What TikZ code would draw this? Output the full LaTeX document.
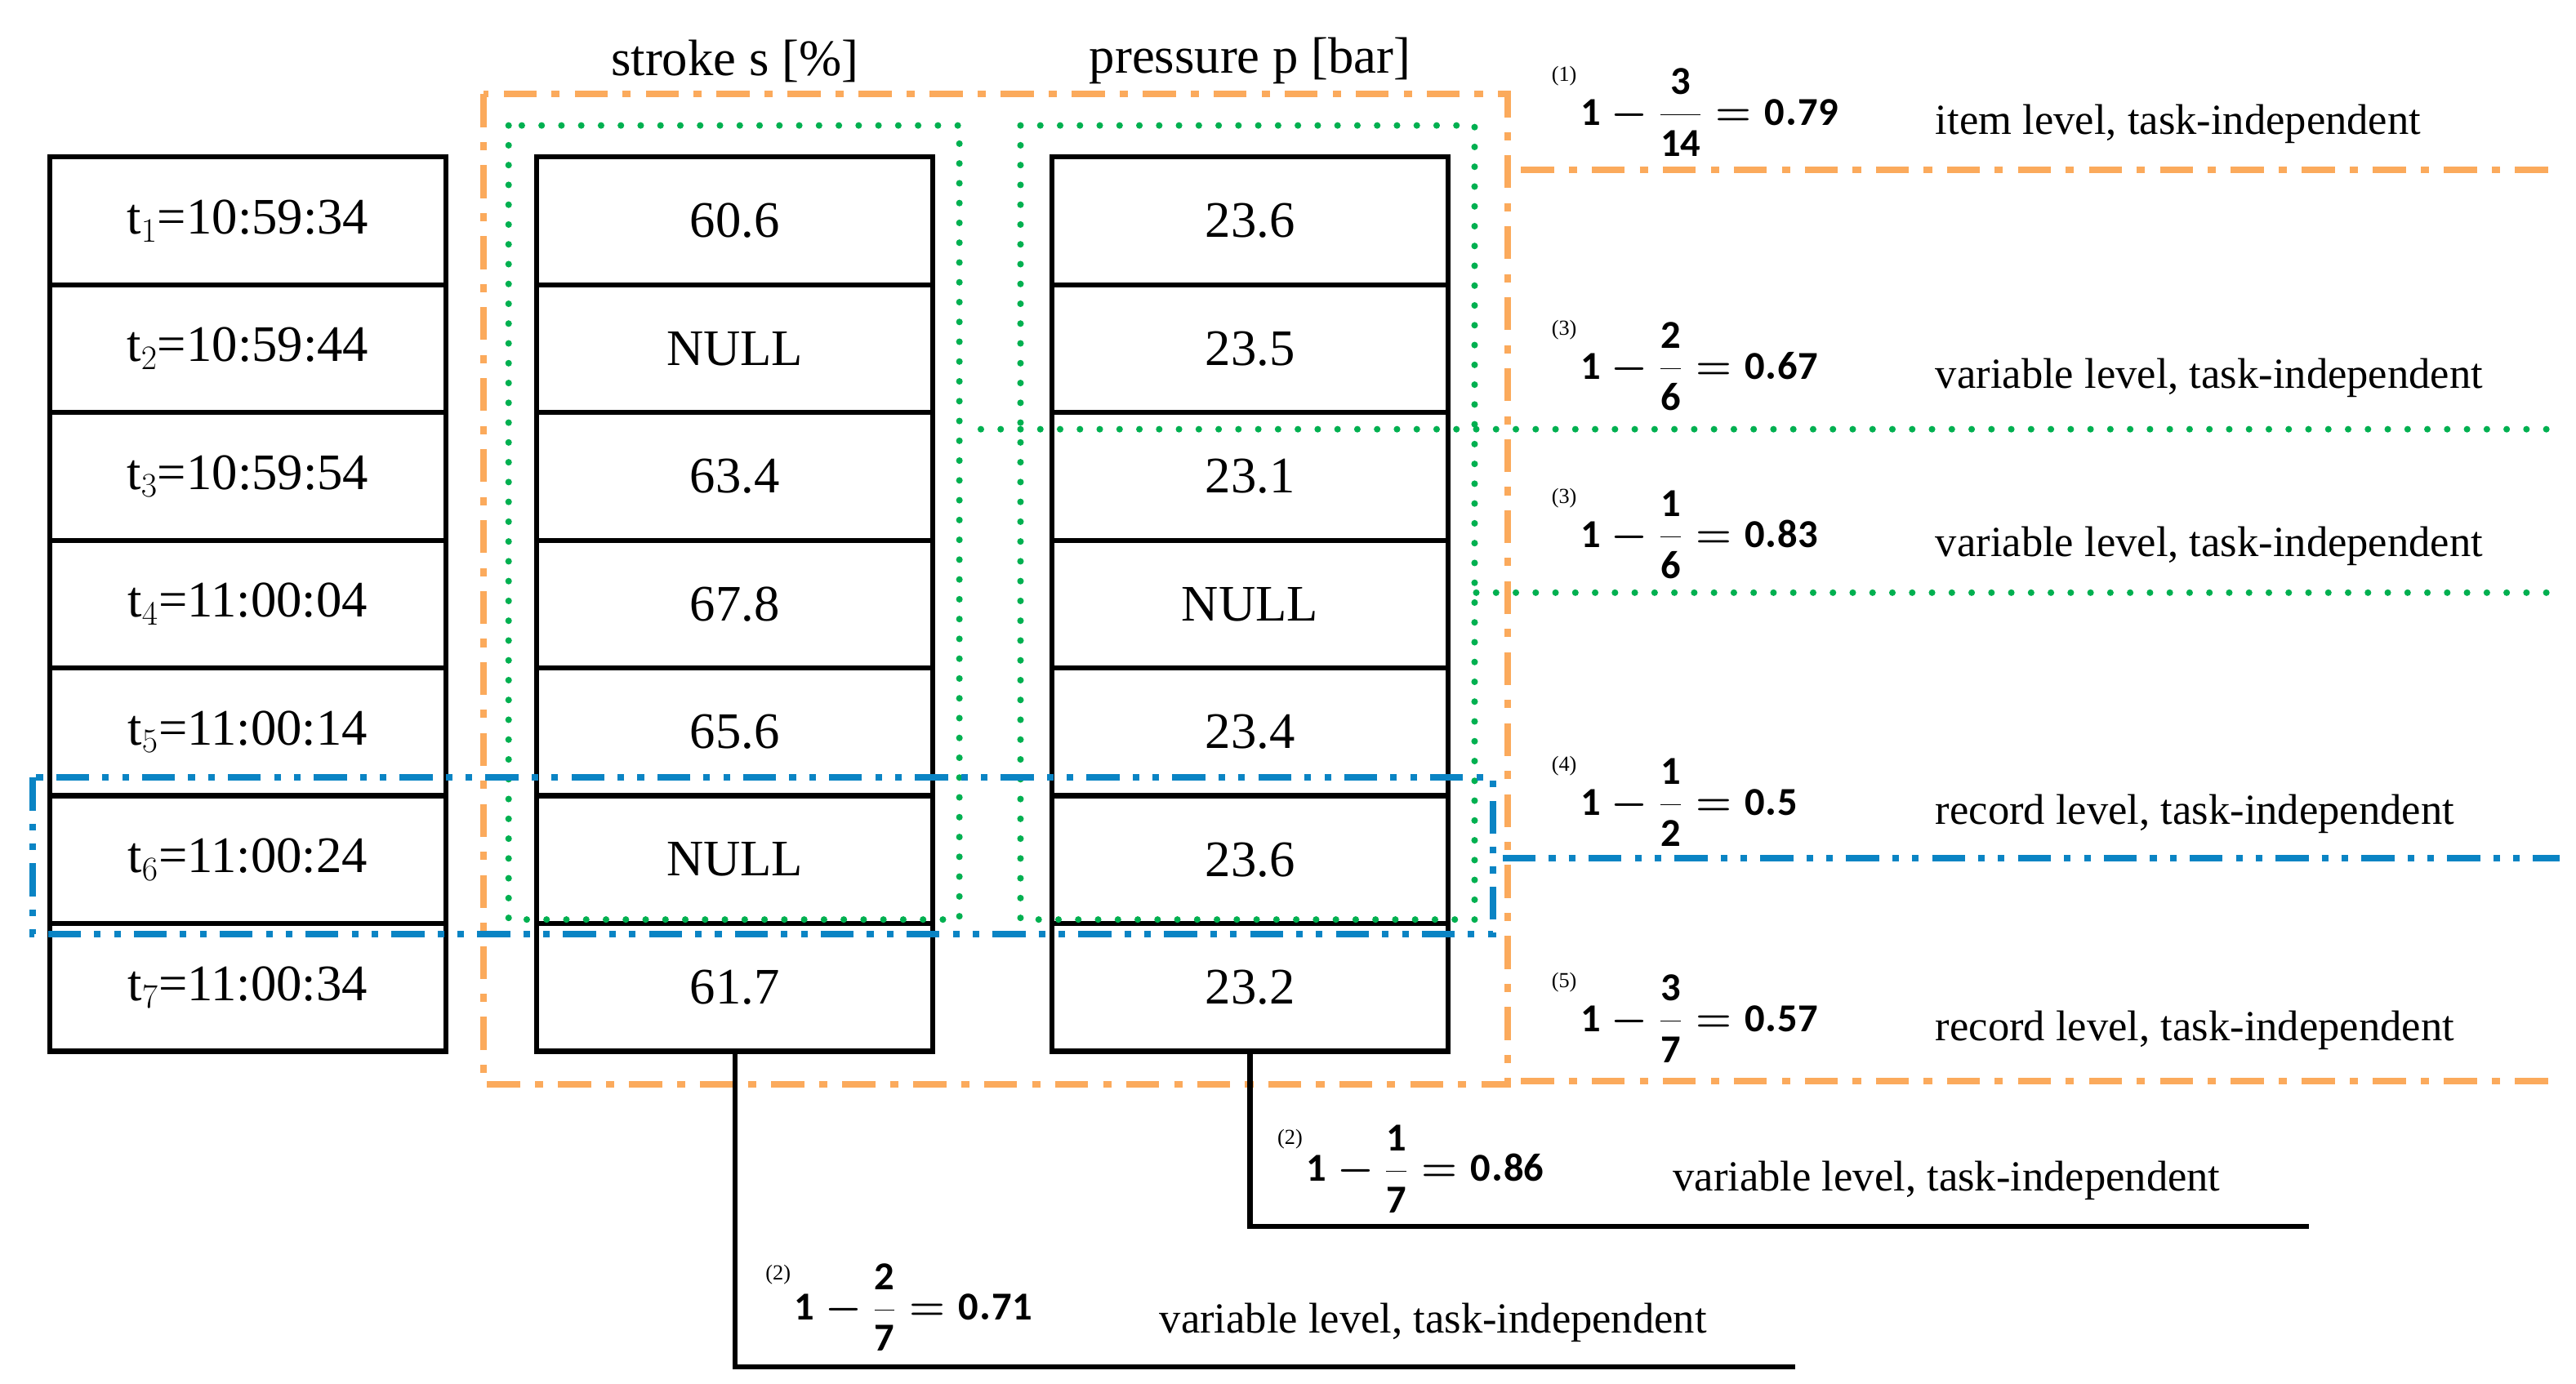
\documentclass[tikz,border=0pt]{standalone}
\usepackage{fontspec}
\setmainfont{Liberation Serif}
\setsansfont{Carlito}
\definecolor{org}{HTML}{FBAA5C}
\definecolor{grn}{HTML}{00B050}
\definecolor{blu}{HTML}{0A84C4}
\newcommand{\Fr}[4]{{\boldmath$\displaystyle\mathsf{1}-\frac{\mathsf{#2}}{\mathsf{#3}}=\mathsf{#4}$}}
\begin{document}
\begin{tikzpicture}[x=1pt,y=-1pt,
 cell/.style={draw,line width=3pt,minimum width=240pt,minimum height=77.4pt,inner sep=0pt,font=\fontsize{31}{36}\selectfont},
 orange/.style={org,line width=4pt,dash pattern=on 20pt off 9pt on 5pt off 9pt},
 green/.style={grn,line width=4pt,line cap=round,dash pattern=on 0pt off 12pt},
 blue/.style={blu,line width=4pt,dash pattern=on 20pt off 8pt on 4pt off 8pt on 4pt off 8pt},
 conn/.style={line width=3pt},
 sup/.style={font=\fontsize{13}{15}\selectfont,inner sep=0pt,anchor=east},
 frm/.style={font=\fontsize{24}{28}\selectfont,anchor=west,inner sep=0pt},
 lab/.style={font=\fontsize{26}{30}\selectfont,anchor=west,inner sep=0pt},
 hdr/.style={font=\fontsize{31}{36}\selectfont}]
\useasboundingbox (0,0) rectangle (1560,838.3);
% headers
\node[hdr] (hs) at (445,37) {stroke s [\%]};
\node[hdr] (hp) at (757,37) {pressure p [bar]};
% cells
\foreach \i/\t/\s/\p in {1/10:59:34/60.6/23.6,2/10:59:44/NULL/23.5,3/10:59:54/63.4/23.1,4/11:00:04/67.8/NULL,5/11:00:14/65.6/23.4,6/11:00:24/NULL/23.6,7/11:00:34/61.7/23.2}{
 \node[cell] (t\i) at (150,{95+77.4*(\i-0.5)}) {t$_{\i}$=\t};
 \node[cell] (s\i) at (445,{95+77.4*(\i-0.5)}) {\s};
 \node[cell] (p\i) at (757,{95+77.4*(\i-0.5)}) {\p};
}
% orange
\draw[orange] (293,57) rectangle (913,657);
\draw[orange] (921,103) -- (1550,103);
\draw[orange] (921,655) -- (1550,655);
% green
\draw[green] (308,76) rectangle (581,557);
\draw[green] (618,76) rectangle (893,557);
\draw[green] (594,260) -- (1550,260);
\draw[green] (894,359) -- (1550,359);
% blue
\draw[blue] (20,471) rectangle (904,566);
\draw[blue] (910,520) -- (1550,520);
% connectors
\coordinate (c1) at (445,828); \coordinate (c1e) at (1087,828);
\coordinate (c2) at (757,743); \coordinate (c2e) at (1398,743);
\draw[conn] (s7.south) -- (c1) -- (c1e);
\draw[conn] (p7.south) -- (c2) -- (c2e);
% formulas
\foreach \n/\y/\k/\a/\b/\c/\tx in {f1/68/1/3/14/0.79/{item level, task-independent},f2/222/3/2/6/0.67/{variable level, task-independent},f3/324/3/1/6/0.83/{variable level, task-independent},f4/486/4/1/2/0.5/{record level, task-independent},f5/617/5/3/7/0.57/{record level, task-independent}}{
 \node[sup] (\n s) at (955,{\y-22}) {(\k)};
 \node[frm] (\n) at (957,\y) {\Fr{}{\a}{\b}{\c}};
 \node[lab] (\n t) at (1172,{\y+7}) {\tx};
}
\node[sup] (g1s) at (789,690) {(2)};
\node[frm] (g1) at (791,708) {\Fr{}{1}{7}{0.86}};
\node[lab] (g1t) at (1013,715) {variable level, task-independent};
\node[sup] (g2s) at (479,772) {(2)};
\node[frm] (g2) at (481,792) {\Fr{}{2}{7}{0.71}};
\node[lab] (g2t) at (702,801) {variable level, task-independent};
\end{tikzpicture}
\end{document}
